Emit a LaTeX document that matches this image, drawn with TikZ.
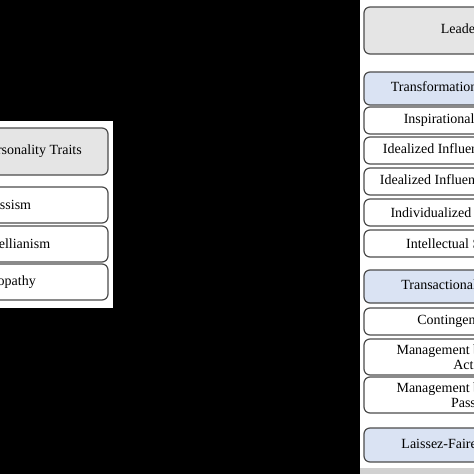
\documentclass[tikz,border=0pt]{standalone}
\usepackage{fontspec}
\setmainfont{Liberation Serif}
\usepackage{tikz}

\definecolor{paleblue}{RGB}{218,227,243}

\tikzset{
  box/.style={draw=black!70, line width=1.2pt, rounded corners=6pt, fill=white,
    inner sep=0pt, minimum width=216pt, align=center,
    font=\fontsize{14}{15.5}\selectfont},
  headbox/.style={box, fill=black!10},
  bluebox/.style={box, fill=paleblue},
}

\begin{document}
\begin{tikzpicture}[x=1pt,y=-1pt]
\useasboundingbox (0,0) rectangle (474,474);
\clip (0,0) rectangle (474,474);

\fill[black] (0,0) rectangle (474,474) ;
\fill[white] (-5,121) rectangle (113,308) ;
\fill[white] (360,-5) rectangle (480,468) ;
\fill[black!18] (360,468) rectangle (480,480) ;

% dark triad
\node[headbox, minimum height=47pt] (traits) at (0,151.5) {Dark Triad Personality Traits} ;
\node[box, minimum height=36pt] (narc) at (0,205) {Narcissism} ;
\node[box, minimum height=36pt] (mach) at (0,244) {Machiavellianism} ;
\node[box, minimum height=36pt] (psych) at (0,282) {Psychopathy} ;

% leadership
\node[headbox, minimum height=47pt] (lead) at (472,30.5) {Leadership} ;
\node[bluebox, minimum height=33pt] (transf) at (472,88.5) {Transformational Leadership} ;
\node[box, minimum height=27pt] (insp) at (472,120.5) {Inspirational Motivation} ;
\node[box, minimum height=27pt] (idatt) at (472,150.5) {Idealized Influence (Attributed)} ;
\node[box, minimum height=27pt] (idbeh) at (472,181.5) {Idealized Influence (Behaviours)} ;
\node[box, minimum height=27pt] (indiv) at (472,212.5) {Individualized Consideration} ;
\node[box, minimum height=27pt] (intel) at (472,243.5) {Intellectual Stimulation} ;
\node[bluebox, minimum height=33pt] (transa) at (472,286.5) {Transactional Leadership} ;
\node[box, minimum height=27pt] (reward) at (472,321.5) {Contingent Reward} ;
\node[box, minimum height=36pt] (mbeact) at (472,357) {Management by Exception\\Active} ;
\node[box, minimum height=36pt] (mbepas) at (472,395) {Management by Exception\\Passive} ;
\node[bluebox, minimum height=34pt] (laissez) at (472,445) {Laissez-Faire Leadership} ;
\end{tikzpicture}
\end{document}
